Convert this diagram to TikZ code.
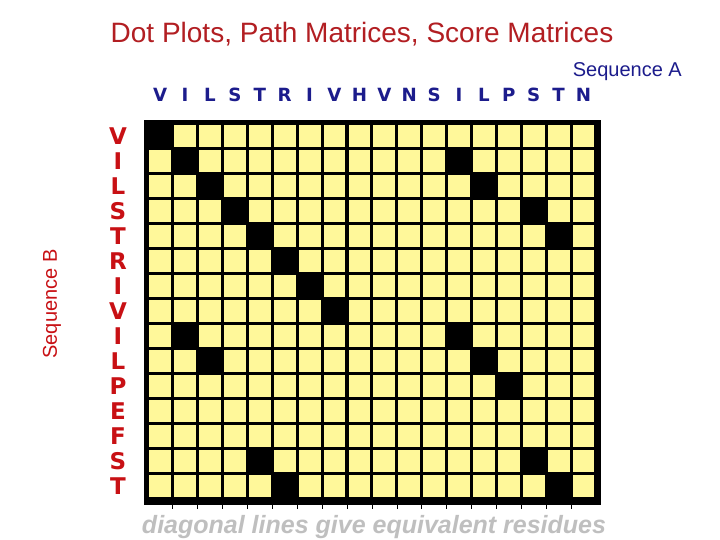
\documentclass[tikz,border=0pt]{standalone}
\usepackage{fontspec}
\setmainfont{Liberation Sans}
\newfontfamily\heavyfont{DejaVu Sans}
\usetikzlibrary{positioning}
\definecolor{titlered}{RGB}{178,30,34}
\definecolor{seqblue}{RGB}{28,28,140}
\definecolor{seqred}{RGB}{200,16,20}
\definecolor{cellyellow}{RGB}{255,248,154}
\tikzset {
    x=1pt,
    y=-1pt,
    every node/.style={inner sep=0pt},
    seqa/.style={text=seqblue, font=\heavyfont\fontsize{18.2}{20}\selectfont\bfseries},
    seqb/.style={text=seqred, font=\heavyfont\fontsize{23}{25}\selectfont\bfseries},
    cell/.style={fill=cellyellow},
    hit/.style={fill=black}
}

\begin{document}
\begin{tikzpicture}
                            \useasboundingbox[fill=white] (0,0) rectangle (720,540);

                            \node[text=titlered, font=\fontsize{28}{32}\selectfont, anchor=base] (title) at (362,43) {Dot Plots, Path Matrices, Score Matrices};
                            \node[text=seqblue, font=\fontsize{20}{22}\selectfont, anchor=base east] (labela) at (682,77) {Sequence A};
                            \node[text=seqred, font=\fontsize{20}{22}\selectfont, rotate=90] (labelb) at (52,304) {Sequence B};

                            \fill[black] (144,120) rectangle (601,505);
                            \foreach \c in {0,...,17}
                                \foreach \r in {0,...,14}
                                    \fill[cell] ({149.3+\c*24.9}, {125+\r*25}) rectangle ++(21.8,21.8);
                            \foreach \c/\r in {1/1, 2/2, 13/2, 3/3, 14/3, 4/4, 16/4, 5/5, 17/5, 6/6, 7/7, 8/8,
                                               2/9, 13/9, 3/10, 14/10, 15/11, 5/14, 16/14, 6/15, 17/15}
                                \fill[hit] ({149.3+(\c-1)*24.9-1.6}, {125+(\r-1)*25-1.6}) rectangle ++(25,25);
                            \foreach \c in {1,...,17}
                                \draw[thin] ({149.3+\c*24.9-1.6}, 505) -- ++(0,4);

                            \foreach \l [count=\i] in {V,I,L,S,T,R,I,V,H,V,N,S,I,L,P,S,T,N}
                                \node[seqa] (a\i) at ({149.3+(\i-1)*24.9+10.9}, 95) {\l};
                            \foreach \l [count=\i] in {V,I,L,S,T,R,I,V,I,L,P,E,F,S,T}
                                \node[seqb] (b\i) at (118, {125+(\i-1)*25+11}) {\l};

                            \node[text=black!25, font=\fontsize{25}{28}\selectfont\bfseries\itshape] (note) at (374,527) {diagonal lines give equivalent residues};
                        \end{tikzpicture}
\end{document}
